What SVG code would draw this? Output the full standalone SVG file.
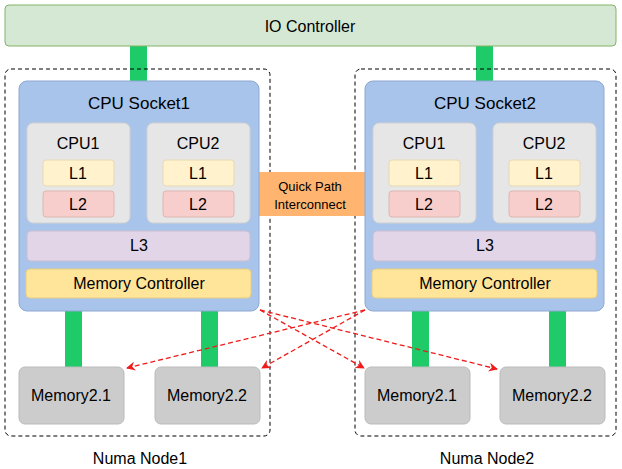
<svg xmlns="http://www.w3.org/2000/svg" width="622" height="469" viewBox="0 0 622 469">
<style>
text{font-family:"Liberation Sans",Arial,sans-serif;font-size:16px;fill:#000;text-anchor:middle}
.numa{fill:none;stroke:#000;stroke-dasharray:4 3;stroke-width:1}
.sock{fill:#a9c4eb;stroke:#8ea8d0}
.cpu{fill:#e6e6e6;stroke:#d0d0d0}
.l1{fill:#fff2cc;stroke:#e6d9b3}
.l2{fill:#f8cecc;stroke:#dcb6b4}
.l3{fill:#e1d5e7;stroke:#c9bfd0}
.mc{fill:#ffe599;stroke:#e6cd85}
.mem{fill:#cccccc;stroke:#bbbbbb}
.bus{fill:#1fcb68}
.red{stroke:#f01a1a;stroke-width:1.3;stroke-dasharray:5 3;fill:none;marker-end:url(#ah)}
</style>
<defs>
<marker id="ah" viewBox="0 0 10 10" refX="9" refY="5" markerWidth="9" markerHeight="9" orient="auto" markerUnits="userSpaceOnUse"><path d="M0,0 L10,5 L0,10 L3,5 Z" fill="#f01a1a"/></marker>
</defs>
<g id="buses">
<rect class="bus" x="130" y="46" width="17" height="35"/>
<rect class="bus" x="476" y="46" width="17" height="35"/>
<rect class="bus" x="65" y="311" width="17" height="56"/>
<rect class="bus" x="201" y="311" width="17" height="56"/>
<rect class="bus" x="412" y="311" width="17" height="56"/>
<rect class="bus" x="549" y="311" width="17" height="56"/>
</g>
<g id="io"><rect x="5" y="5" width="611" height="41" rx="4" fill="#d5e8d4" stroke="#82b366"/><text x="310" y="32">IO Controller</text></g>
<g id="numa1"><rect class="numa" x="5" y="69" width="265" height="367" rx="6"/><text x="140" y="464">Numa Node1</text></g>
<g id="numa2"><rect class="numa" x="355" y="69" width="261" height="367" rx="6"/><text x="487" y="464">Numa Node2</text></g>
<g id="qpi"><rect x="259" y="172" width="106" height="44" fill="#ffb570"/><text x="310" y="191" style="font-size:13px">Quick Path</text><text x="310" y="209" style="font-size:13px">Interconnect</text></g>
<g id="socket1">
<rect class="sock" x="19" y="81" width="240" height="230" rx="8"/>
<text x="139" y="109" style="font-size:17px">CPU Socket1</text>
<rect class="cpu" x="27" y="123" width="103" height="100" rx="6"/><text x="78" y="149">CPU1</text>
<rect class="l1" x="43" y="160" width="71" height="26" rx="3"/><text x="78" y="179">L1</text>
<rect class="l2" x="43" y="191" width="71" height="26" rx="3"/><text x="78" y="210">L2</text>
<rect class="cpu" x="147" y="123" width="103" height="100" rx="6"/><text x="198" y="149">CPU2</text>
<rect class="l1" x="163" y="160" width="71" height="26" rx="3"/><text x="198" y="179">L1</text>
<rect class="l2" x="163" y="191" width="71" height="26" rx="3"/><text x="198" y="210">L2</text>
<rect class="l3" x="27" y="231" width="223" height="30" rx="4"/><text x="139" y="251">L3</text>
<rect class="mc" x="26" y="269" width="225" height="29" rx="4"/><text x="139" y="289">Memory Controller</text>
</g>
<g id="socket2">
<rect class="sock" x="365" y="81" width="239" height="230" rx="8"/>
<text x="485" y="109" style="font-size:17px">CPU Socket2</text>
<rect class="cpu" x="373" y="123" width="103" height="100" rx="6"/><text x="424" y="149">CPU1</text>
<rect class="l1" x="389" y="160" width="71" height="26" rx="3"/><text x="424" y="179">L1</text>
<rect class="l2" x="389" y="191" width="71" height="26" rx="3"/><text x="424" y="210">L2</text>
<rect class="cpu" x="493" y="123" width="103" height="100" rx="6"/><text x="544" y="149">CPU2</text>
<rect class="l1" x="509" y="160" width="71" height="26" rx="3"/><text x="544" y="179">L1</text>
<rect class="l2" x="509" y="191" width="71" height="26" rx="3"/><text x="544" y="210">L2</text>
<rect class="l3" x="373" y="231" width="223" height="30" rx="4"/><text x="485" y="251">L3</text>
<rect class="mc" x="372" y="269" width="225" height="29" rx="4"/><text x="485" y="289">Memory Controller</text>
</g>
<g id="mem11"><rect class="mem" x="19" y="367" width="105" height="57" rx="6"/><text x="71" y="401">Memory2.1</text></g>
<g id="mem12"><rect class="mem" x="155" y="367" width="105" height="57" rx="6"/><text x="207" y="401">Memory2.2</text></g>
<g id="mem21"><rect class="mem" x="365" y="367" width="105" height="57" rx="6"/><text x="417" y="401">Memory2.1</text></g>
<g id="mem22"><rect class="mem" x="500" y="367" width="105" height="57" rx="6"/><text x="552" y="401">Memory2.2</text></g>
<g id="connectors">
<path class="red" d="M260,310 L364,368"/>
<path class="red" d="M260,310 L497,369"/>
<path class="red" d="M365,310 L127,368"/>
<path class="red" d="M365,310 L262,368"/>
</g>
</svg>
